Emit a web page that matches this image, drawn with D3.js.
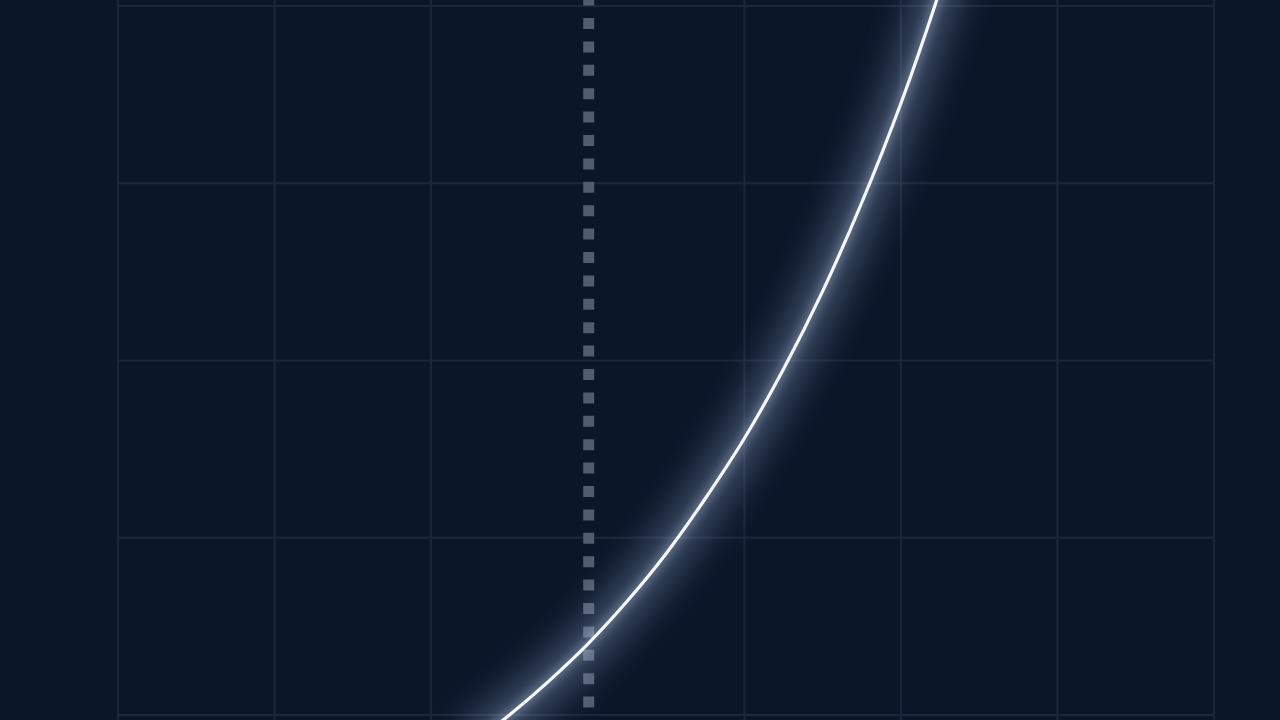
<!DOCTYPE html>
<html>
<head>
<meta charset="utf-8">
<script src="https://cdn.jsdelivr.net/npm/d3@7/dist/d3.min.js"></script>
<style>
  html, body { margin: 0; padding: 0; background: #0b1629; overflow: hidden; }
  svg { display: block; }
</style>
</head>
<body>
<svg id="chart" width="1280" height="720"></svg>
<script>
// ---- data ----
const xTicks = [0, 1, 2, 3, 4, 5, 6, 7];
const yTicks = [0, 1, 2, 3, 4];
const markerX = [3];
const curveX = [2.25, 2.5, 2.75, 3.0, 3.25, 3.5, 3.75, 4.0, 4.25, 4.5, 4.75, 5.0, 5.25, 5.5];
const curveY = [-0.17, 0.0, 0.19, 0.40, 0.64, 0.91, 1.22, 1.56, 1.95, 2.39, 2.89, 3.45, 4.09, 4.81];

const W = 1280, H = 720;
const svg = d3.select("#chart");

const x = d3.scaleLinear().domain([0, 7]).range([118, 1214]);
const y = d3.scaleLinear().domain([0, 4]).range([715, 6]);

const defs = svg.append("defs");

const glow = defs.append("filter").attr("id", "glow")
  .attr("x", -0.5).attr("y", -0.5).attr("width", 2).attr("height", 2);
glow.append("feGaussianBlur").attr("stdDeviation", 18);

const soft = defs.append("filter").attr("id", "soft")
  .attr("x", -0.2).attr("y", -0.2).attr("width", 1.4).attr("height", 1.4);
soft.append("feGaussianBlur").attr("stdDeviation", 4);

const gridGlow = defs.append("filter").attr("id", "gridGlow")
  .attr("x", -0.1).attr("y", -0.1).attr("width", 1.2).attr("height", 1.2);
gridGlow.append("feGaussianBlur").attr("stdDeviation", 0.6);

svg.append("rect").attr("width", W).attr("height", H).attr("fill", "#0b1629");

// grid
const grid = svg.append("g").attr("class", "grid").attr("filter", "url(#gridGlow)");
grid.selectAll("line.v").data(xTicks.filter(d => !markerX.includes(d))).join("line")
  .attr("class", "v")
  .attr("x1", d => x(d)).attr("x2", d => x(d))
  .attr("y1", 0).attr("y2", H)
  .attr("stroke", "#1b273e").attr("stroke-width", 2);
grid.selectAll("line.h").data(yTicks).join("line")
  .attr("class", "h")
  .attr("x1", x(0)).attr("x2", x(7))
  .attr("y1", d => y(d)).attr("y2", d => y(d))
  .attr("stroke", "#1b273e").attr("stroke-width", 2);

// dotted marker line
svg.selectAll("line.marker").data(markerX).join("line")
  .attr("class", "marker")
  .attr("x1", d => x(d) + 1).attr("x2", d => x(d) + 1)
  .attr("y1", -5.4).attr("y2", H)
  .attr("stroke", "#515c6f").attr("stroke-width", 11)
  .attr("stroke-dasharray", "11 12.4");

const pts = curveX.map((v, i) => [v, curveY[i]]);
const line = d3.line().x(d => x(d[0])).y(d => y(d[1])).curve(d3.curveCatmullRom);

// glow
svg.append("path").datum(pts)
  .attr("d", line)
  .attr("fill", "none")
  .attr("stroke", "#9fb8dc")
  .attr("stroke-opacity", 0.42)
  .attr("stroke-width", 34)
  .attr("filter", "url(#glow)");
svg.append("path").datum(pts)
  .attr("d", line)
  .attr("fill", "none")
  .attr("stroke", "#c9dbf5")
  .attr("stroke-opacity", 0.3)
  .attr("stroke-width", 10)
  .attr("filter", "url(#soft)");
// main line
svg.append("path").datum(pts)
  .attr("d", line)
  .attr("fill", "none")
  .attr("stroke", "#f4f9ff")
  .attr("stroke-width", 3.2)
  .attr("stroke-linecap", "round");
</script>
</body>
</html>
